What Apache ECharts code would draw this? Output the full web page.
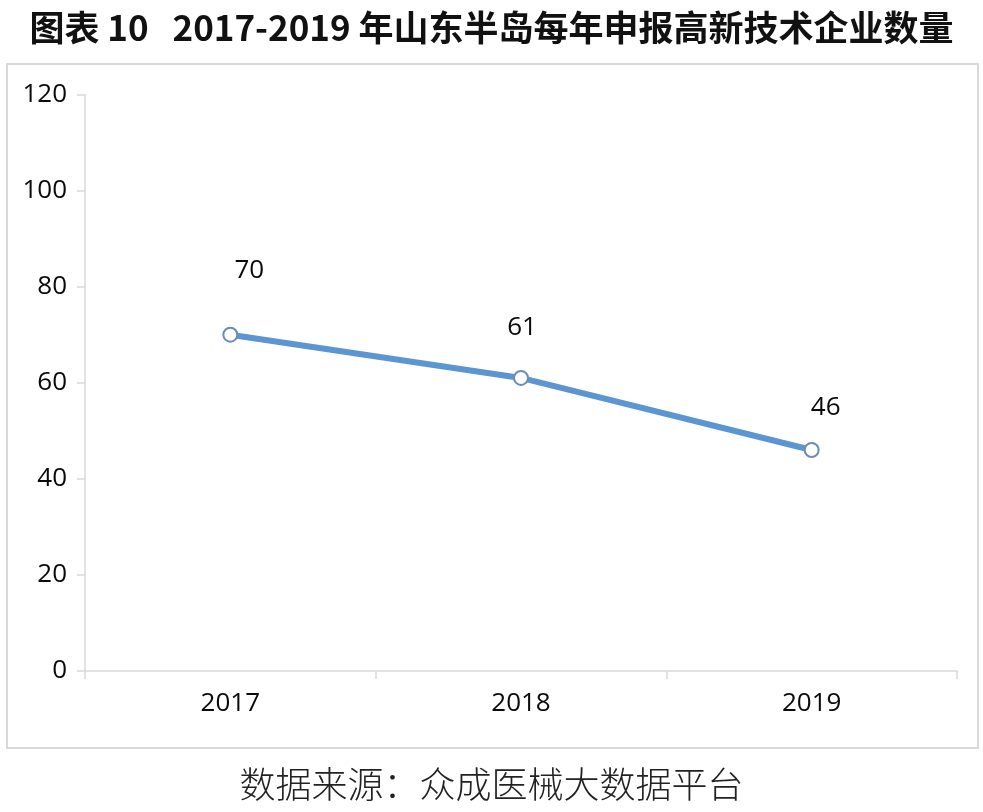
<!DOCTYPE html>
<html><head><meta charset="utf-8">
<script src="https://cdn.jsdelivr.net/npm/echarts@6/dist/echarts.min.js"></script>
<style>html,body{margin:0;padding:0;background:#fff}#c{width:983px;height:812px}</style>
</head><body><div id="c"></div>
<script>
const categories = ['2017', '2018', '2019'];
const values = [70, 61, 46];
const yTicks = { min: 0, max: 120, interval: 20 };
const titleText = '图表 10   2017-2019 年山东半岛每年申报高新技术企业数量';
const sourceText = '数据来源：众成医械大数据平台';
// label placement (style only)
const labelOffsets = [[19, -38], [1, -24], [14, -16]];

const chart = echarts.init(document.getElementById('c'));
const axisColor = '#d9d9d9';
const seriesData = values.map((v, i) => ({ value: v, label: { offset: labelOffsets[i] } }));
chart.setOption({
  backgroundColor: '#fff',
  animation: false,
  title: [{
    text: titleText, left: 'center', top: 5,
    textStyle: { fontFamily: 'Noto Sans CJK SC', fontSize: 35, fontWeight: 'bold', color: '#111' }
  }, {
    text: sourceText, left: 'center', top: 761,
    textStyle: { fontFamily: 'Noto Sans CJK SC', fontSize: 36, fontWeight: 300, color: '#222' }
  }],
  graphic: [{
    type: 'rect', shape: { x: 7, y: 64, width: 971, height: 684 },
    style: { fill: 'none', stroke: axisColor, lineWidth: 2 }, silent: true, z: -1
  }],
  grid: { left: 85, right: 26, top: 94.5, bottom: 141 },
  xAxis: {
    type: 'category', data: categories, boundaryGap: true,
    axisLine: { lineStyle: { color: axisColor, width: 1.5 } },
    axisTick: { show: true, length: 8, alignWithLabel: false, lineStyle: { color: axisColor, width: 1.5 } },
    axisLabel: { margin: 20, fontSize: 26, color: '#0a0a0a', fontFamily: 'Open Sans' },
    splitLine: { show: false }
  },
  yAxis: {
    type: 'value', min: yTicks.min, max: yTicks.max, interval: yTicks.interval,
    axisLine: { show: true, lineStyle: { color: axisColor, width: 1.5 } },
    axisTick: { show: true, length: 8, lineStyle: { color: axisColor, width: 1.5 } },
    axisLabel: { margin: 18, fontSize: 26, color: '#0a0a0a', fontFamily: 'Open Sans' },
    splitLine: { show: false }
  },
  series: [{
    type: 'line', data: seriesData,
    symbol: 'circle', symbolSize: 14, showAllSymbol: true,
    lineStyle: { color: '#5b96d2', width: 6 },
    itemStyle: { color: '#fff', borderColor: '#6a8db5', borderWidth: 2 },
    label: {
      show: true, position: 'top',
      fontSize: 26, color: '#0a0a0a', fontFamily: 'Open Sans'
    },
    z: 3
  }]
});
</script></body></html>
